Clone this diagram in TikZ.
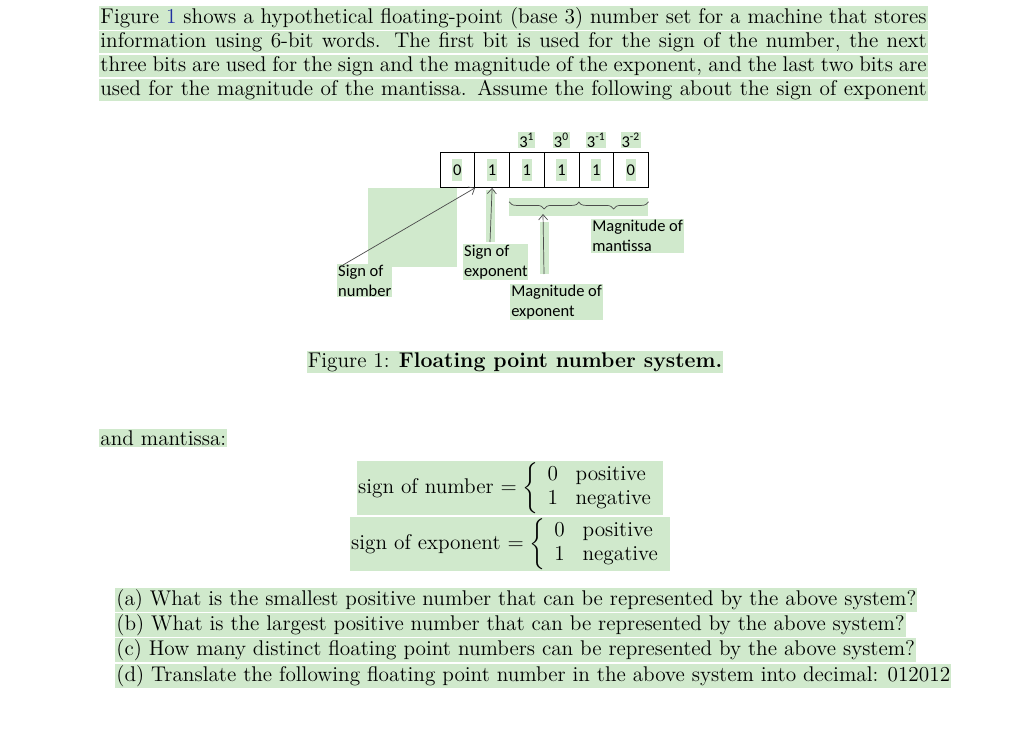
\documentclass[tikz,border=0pt]{standalone}
\usepackage{fontspec}
\usepackage{amsmath}
\newfontfamily\diafont{Carlito}
\usetikzlibrary{decorations.pathreplacing,arrows.meta}
\definecolor{hl}{HTML}{D0E9CC}
\definecolor{lk}{HTML}{1F2FA0}
\tikzset{
 hlt/.style={fill=hl,inner sep=0.6pt,anchor=west},
 par/.style={fill=hl,inner sep=0.6pt,anchor=west,text width=466pt,align=justify,font=\fontsize{12}{13.5}\selectfont},
 dia/.style={fill=hl,inner sep=0.5pt,font=\diafont\fontsize{9.3}{11.2}\selectfont,align=left},
 cell/.style={draw,minimum width=34.7*0.564pt,minimum height=35*0.564pt,inner sep=0pt,font=\diafont\fontsize{9.3}{10}\selectfont},
 arr/.style={draw=black!70,thin,-{Straight Barb[length=3pt,width=5pt]}},
 item/.style={fill=hl,inner sep=0.6pt,anchor=west,font=\fontsize{12}{13.5}\selectfont},
}
\begin{document}
\begin{tikzpicture}[x=0.564pt,y=-0.564pt]
\useasboundingbox (0,0) rectangle (1024,742);
\node[par] (p1) at (99,18) {\parfillskip=0pt Figure {\color{lk}1} shows a hypothetical floating-point (base 3) number set for a machine that stores\par};
\node[par] (p2) at (99,42) {\parfillskip=0pt information using 6-bit words. The first bit is used for the sign of the number, the next\par};
\node[par] (p3) at (99,66) {\parfillskip=0pt three bits are used for the sign and the magnitude of the exponent, and the last two bits are\par};
\node[par] (p4) at (99,90) {\parfillskip=0pt used for the magnitude of the mantissa. Assume the following about the sign of exponent\par};
% figure
\fill[hl] (368,188) rectangle (457,267);
\fill[hl] (509,198) rectangle (648,216);
\foreach \i/\v in {0/0,1/1,2/1,3/1,4/1,5/0}{
 \node[cell] (c\i) at ({457.4+34.7*\i},170) {\colorbox{hl}{\kern-2.5pt\v\kern-2.5pt}};
}
\node[dia] (e1) at (c2.north) [above=2pt] {3$^{\text{1}}$};
\node[dia] (e2) at (c3.north) [above=2pt] {3$^{\text{0}}$};
\node[dia] (e3) at (c4.north) [above=2pt] {3$^{\text{-1}}$};
\node[dia] (e4) at (c5.north) [above=2pt] {3$^{\text{-2}}$};
\node[dia,anchor=north west] (sn) at (337,264) {Sign of\\number};
\node[dia,anchor=north west] (se) at (463,244) {Sign of\\exponent};
\node[dia,anchor=north west] (me) at (510,284) {Magnitude of\\exponent};
\node[dia,anchor=north west] (mm) at (591,219) {Magnitude of\\mantissa};
\coordinate (snt) at (343,265);
\draw[arr] (snt) -- (c0.south east);
\fill[hl] (486,190) rectangle (495,242);
\draw[arr] (490,242) -- (c1.south);
\fill[hl] (540,222) rectangle (549,274);
\coordinate (b1) at (543,214);
\draw[arr] (544,274) -- (b1);
\draw[black!70,decorate,decoration={brace,mirror,amplitude=4pt}] ([yshift=-14*0.564pt]c2.south west) -- ([yshift=-14*0.564pt]c3.south east);
\draw[black!70,decorate,decoration={brace,mirror,amplitude=4pt}] ([yshift=-14*0.564pt]c4.south west) -- ([yshift=-14*0.564pt]c5.south east);
\node[fill=hl,inner sep=0.6pt,font=\fontsize{12}{13.5}\selectfont] (cap) at (515,362) {Figure 1: \textbf{Floating point number system.}};
\node[item] (am) at (99,438) {and mantissa:};
\node[fill=hl,inner sep=0.6pt,font=\fontsize{12}{13.5}\selectfont] (eq1) at (510,488) {sign of number $=\left\{\begin{array}{ll}0&\text{positive}\\1&\text{negative}\end{array}\right.$};
\node[fill=hl,inner sep=0.6pt,font=\fontsize{12}{13.5}\selectfont] (eq2) at (510,544) {sign of exponent $=\left\{\begin{array}{ll}0&\text{positive}\\1&\text{negative}\end{array}\right.$};
\node[item] (qa) at (115,600) {(a) What is the smallest positive number that can be represented by the above system?};
\node[item] (qb) at (115,625) {(b) What is the largest positive number that can be represented by the above system?};
\node[item] (qc) at (115,650) {(c) How many distinct floating point numbers can be represented by the above system?};
\node[item] (qd) at (115,676) {(d) Translate the following floating point number in the above system into decimal: 012012};
\end{tikzpicture}
\end{document}
